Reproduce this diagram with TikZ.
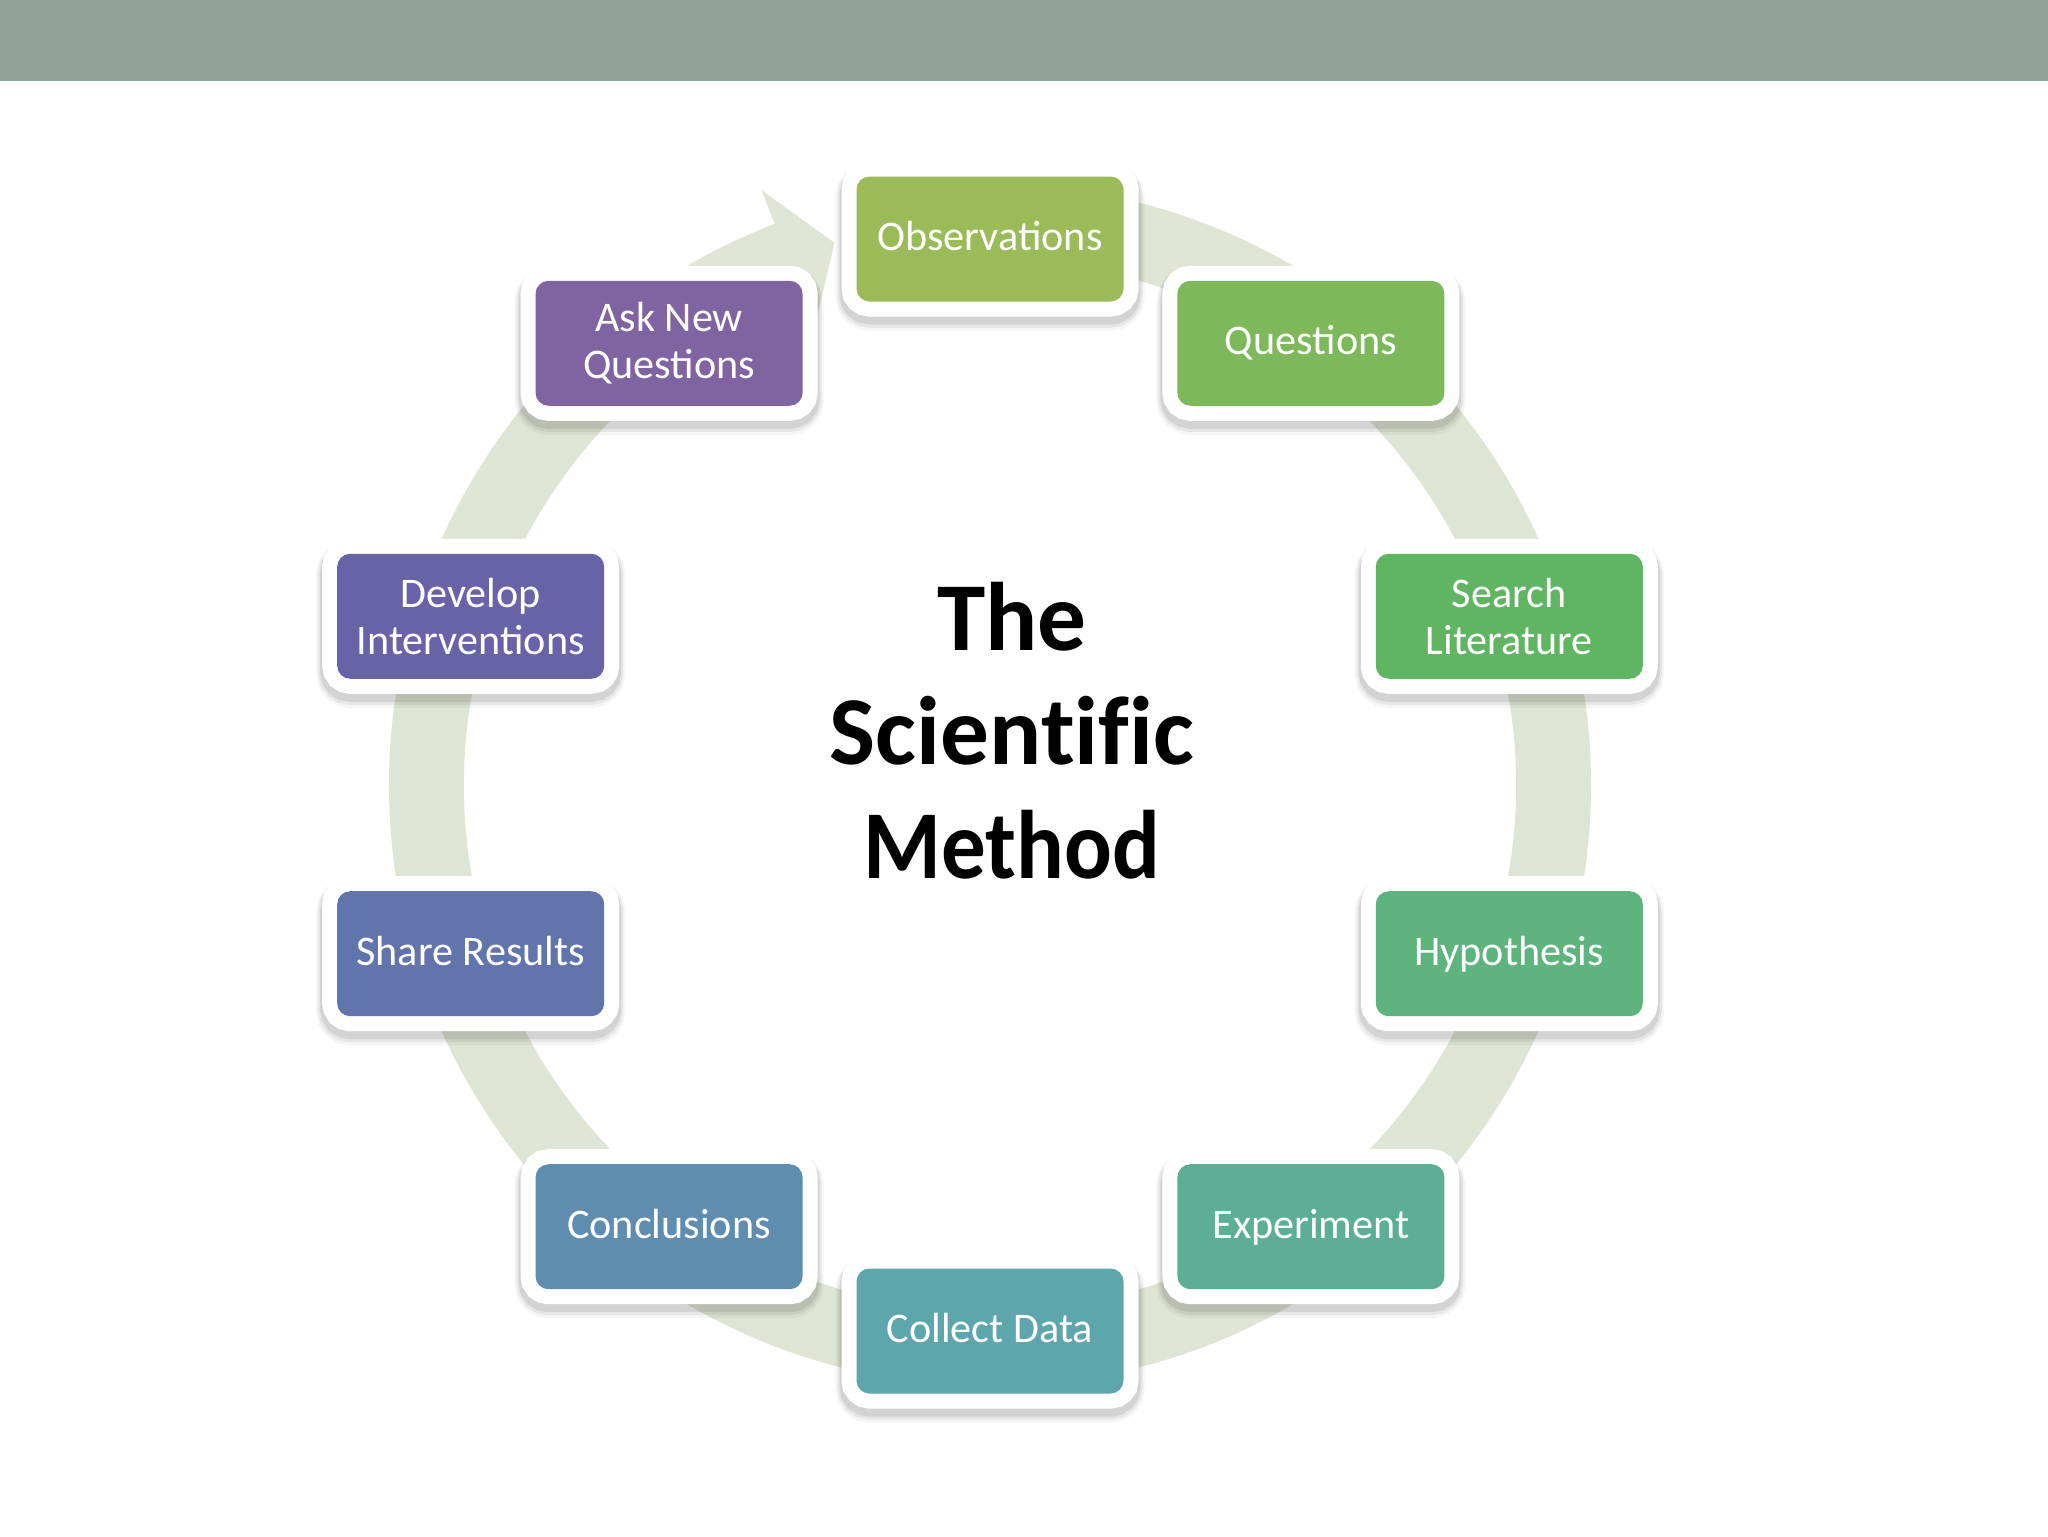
\documentclass[tikz,border=0pt]{standalone}
\usepackage{fontspec}
\usepackage{graphicx}
\setmainfont{Carlito}
\definecolor{barcol}{RGB}{145,163,153}
\definecolor{ringcol}{RGB}{223,229,212}
\definecolor{cObs}{RGB}{155,187,89}
\definecolor{cQue}{RGB}{125,185,90}
\definecolor{cSea}{RGB}{95,181,98}
\definecolor{cHyp}{RGB}{93,180,125}
\definecolor{cExp}{RGB}{92,174,149}
\definecolor{cCol}{RGB}{92,166,172}
\definecolor{cCon}{RGB}{94,141,176}
\definecolor{cSha}{RGB}{98,116,172}
\definecolor{cDev}{RGB}{104,98,167}
\definecolor{cAsk}{RGB}{128,100,162}
\tikzset{
  stepbox/.style={fill=#1, rounded corners=1.3mm, minimum width=26.7mm,
    minimum height=12.5mm, inner sep=0pt, text=white, align=center,
    font=\fontsize{12}{13.4}\selectfont,
    text height=0.75em, text depth=0.106em,
    preaction={draw=black, draw opacity=0.04, line width=4.2mm, transform canvas={yshift=-0.8mm}},
    preaction={draw=black, draw opacity=0.06, line width=3.8mm, transform canvas={yshift=-0.7mm}},
    preaction={draw=black, draw opacity=0.08, line width=3.4mm, transform canvas={yshift=-0.6mm}},
    preaction={draw=white, line width=3mm}},
  twoline/.style={text height={}, text depth={}},
  titletext/.style={font=\bfseries\fontsize{27.7}{32.4}\selectfont\addfontfeatures{Ligatures=NoCommon}, align=center, inner sep=0pt}
}
\begin{document}
\begin{tikzpicture}[x=0.1mm, y=0.1mm]
\useasboundingbox (-990,-751) rectangle (1058,785);
\fill[white] (-990,-751) rectangle (1058,785);
% top bar
\fill[barcol] (-990,785) rectangle (1058,704);
% ring arrow
\fill[ringcol] (90:601) arc[start angle=90, end angle=-249, radius=601]
  -- (-249:637) -- (-254:564) -- (-249:490) -- (-249:526)
  arc[start angle=-249, end angle=90, radius=526] -- cycle;
% boxes
\node[stepbox=cObs] (obs) at (90:546) {Observations};
\node[stepbox=cQue] (que) at (54:546) {Questions};
\node[stepbox=cSea, twoline] (sea) at (18:546) {Search\\Literature};
\node[stepbox=cHyp] (hyp) at (-18:546) {Hypothesis};
\node[stepbox=cExp] (exp) at (-54:546) {Experiment};
\node[stepbox=cCol] (col) at (-90:546) {Collect Data};
\node[stepbox=cCon] (con) at (-126:546) {Conclusions};
\node[stepbox=cSha] (sha) at (-162:546) {Share Results};
\node[stepbox=cDev, twoline] (dev) at (162:546) {Develop\\Interventions};
\node[stepbox=cAsk, twoline] (ask) at (126:546) {Ask New\\Questions};
% title
\node[titletext] (title) at (22,54.5) {The\\Scientific\\\scalebox{0.915}[1]{Method}};
\end{tikzpicture}
\end{document}
